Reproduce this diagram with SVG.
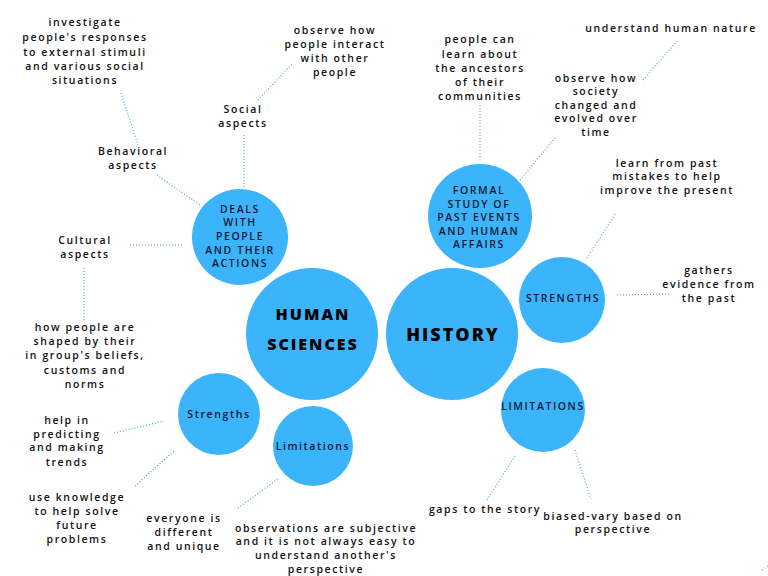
<svg xmlns="http://www.w3.org/2000/svg" width="768" height="576" viewBox="0 0 768 576">
<style>
.n{fill:#3bb4fb}
.c{stroke:#4fa6e8;stroke-width:1.2;stroke-dasharray:1 2;fill:none}
text{font-family:"Open Sans","Liberation Sans",sans-serif;font-size:10.5px;letter-spacing:1.6px;fill:#111;text-anchor:middle;font-weight:600}
.t{fill:#0e1a33;font-size:10.5px}
.b{font-weight:800;fill:#000;letter-spacing:2px}
</style>
<rect width="768" height="576" fill="#fff"/>
<g id="connectors">
<line class="c" x1="121" y1="93" x2="138" y2="145"/>
<line class="c" x1="157" y1="175" x2="200" y2="205"/>
<line class="c" x1="244" y1="135" x2="244" y2="188"/>
<line class="c" x1="258" y1="100" x2="293" y2="63"/>
<line class="c" x1="130" y1="245" x2="183" y2="245"/>
<line class="c" x1="84" y1="268" x2="84" y2="320"/>
<line class="c" x1="480" y1="105" x2="480" y2="158"/>
<line class="c" x1="520" y1="180" x2="555" y2="138"/>
<line class="c" x1="643" y1="80" x2="677" y2="41"/>
<line class="c" x1="587" y1="258" x2="616" y2="213"/>
<line class="c" x1="617" y1="295" x2="671" y2="294"/>
<line class="c" x1="114" y1="433" x2="164" y2="421"/>
<line class="c" x1="135" y1="486" x2="174" y2="451"/>
<line class="c" x1="238" y1="508" x2="279" y2="478"/>
<line class="c" x1="515" y1="456" x2="487" y2="500"/>
<line class="c" x1="575" y1="450" x2="591" y2="499"/>
<line class="c" x1="762" y1="570" x2="768" y2="566"/>
</g>
<g id="hs"><circle class="n" cx="312" cy="334" r="66"/><text class="b" x="313" y="320" font-size="16" style="font-size:16px">HUMAN</text><text class="b" x="313" y="350" style="font-size:16px">SCIENCES</text></g>
<g id="history"><circle class="n" cx="452" cy="334" r="66"/><text class="b" x="453" y="341" style="font-size:18px">HISTORY</text></g>
<g id="deals"><circle class="n" cx="240" cy="237" r="48"/><text class="t" x="240" y="213">DEALS</text><text class="t" x="240" y="226">WITH</text><text class="t" x="240" y="240">PEOPLE</text><text class="t" x="240" y="254">AND THEIR</text><text class="t" x="240" y="267">ACTIONS</text></g>
<g id="formal"><circle class="n" cx="480" cy="216" r="52"/><text class="t" x="479" y="194">FORMAL</text><text class="t" x="479" y="208">STUDY OF</text><text class="t" x="479" y="221">PAST EVENTS</text><text class="t" x="479" y="235">AND HUMAN</text><text class="t" x="479" y="248">AFFAIRS</text></g>
<g id="strengthsH"><circle class="n" cx="562" cy="300" r="43"/><text class="t" x="563" y="302">STRENGTHS</text></g>
<g id="limitsH"><circle class="n" cx="543" cy="410" r="42"/><text class="t" x="543" y="410">LIMITATIONS</text></g>
<g id="strengthsS"><circle class="n" cx="219" cy="414" r="41"/><text class="t" x="219" y="418">Strengths</text></g>
<g id="limitsS"><circle class="n" cx="313" cy="446" r="40"/><text class="t" x="313" y="450">Limitations</text></g>
<g id="investigate"><text x="85" y="26">investigate</text><text x="85" y="41">people's responses</text><text x="85" y="56">to external stimuli</text><text x="85" y="70">and various social</text><text x="85" y="84">situations</text></g>
<g id="observePeople"><text x="335" y="34">observe how</text><text x="335" y="48">people interact</text><text x="335" y="62">with other</text><text x="335" y="76">people</text></g>
<g id="social"><text x="243" y="113">Social</text><text x="243" y="127">aspects</text></g>
<g id="behavioral"><text x="133" y="155">Behavioral</text><text x="133" y="169">aspects</text></g>
<g id="cultural"><text x="85" y="244">Cultural</text><text x="85" y="258">aspects</text></g>
<g id="howPeople"><text x="85" y="331">how people are</text><text x="85" y="345">shaped by their</text><text x="85" y="359">in group's beliefs,</text><text x="85" y="374">customs and</text><text x="85" y="388">norms</text></g>
<g id="peopleCan"><text x="480" y="43">people can</text><text x="480" y="58">learn about</text><text x="480" y="72">the ancestors</text><text x="480" y="86">of their</text><text x="480" y="100">communities</text></g>
<g id="understand"><text x="671" y="32">understand human nature</text></g>
<g id="observeSociety"><text x="596" y="82">observe how</text><text x="596" y="95">society</text><text x="596" y="109">changed and</text><text x="596" y="122">evolved over</text><text x="596" y="136">time</text></g>
<g id="learn"><text x="667" y="167">learn from past</text><text x="667" y="180">mistakes to help</text><text x="667" y="194">improve the present</text></g>
<g id="gathers"><text x="709" y="274">gathers</text><text x="709" y="288">evidence from</text><text x="709" y="302">the past</text></g>
<g id="helpIn"><text x="67" y="424">help in</text><text x="67" y="438">predicting</text><text x="67" y="451">and making</text><text x="67" y="466">trends</text></g>
<g id="useKnowledge"><text x="77" y="501">use knowledge</text><text x="77" y="515">to help solve</text><text x="77" y="529">future</text><text x="77" y="543">problems</text></g>
<g id="everyone"><text x="184" y="522">everyone is</text><text x="184" y="536">different</text><text x="184" y="550">and unique</text></g>
<g id="observations"><text x="326" y="532">observations are subjective</text><text x="326" y="545">and it is not always easy to</text><text x="326" y="559">understand another's</text><text x="326" y="573">perspective</text></g>
<g id="gaps"><text x="485" y="513">gaps to the story</text></g>
<g id="biased"><text x="613" y="520">biased-vary based on</text><text x="613" y="533">perspective</text></g>
</svg>
